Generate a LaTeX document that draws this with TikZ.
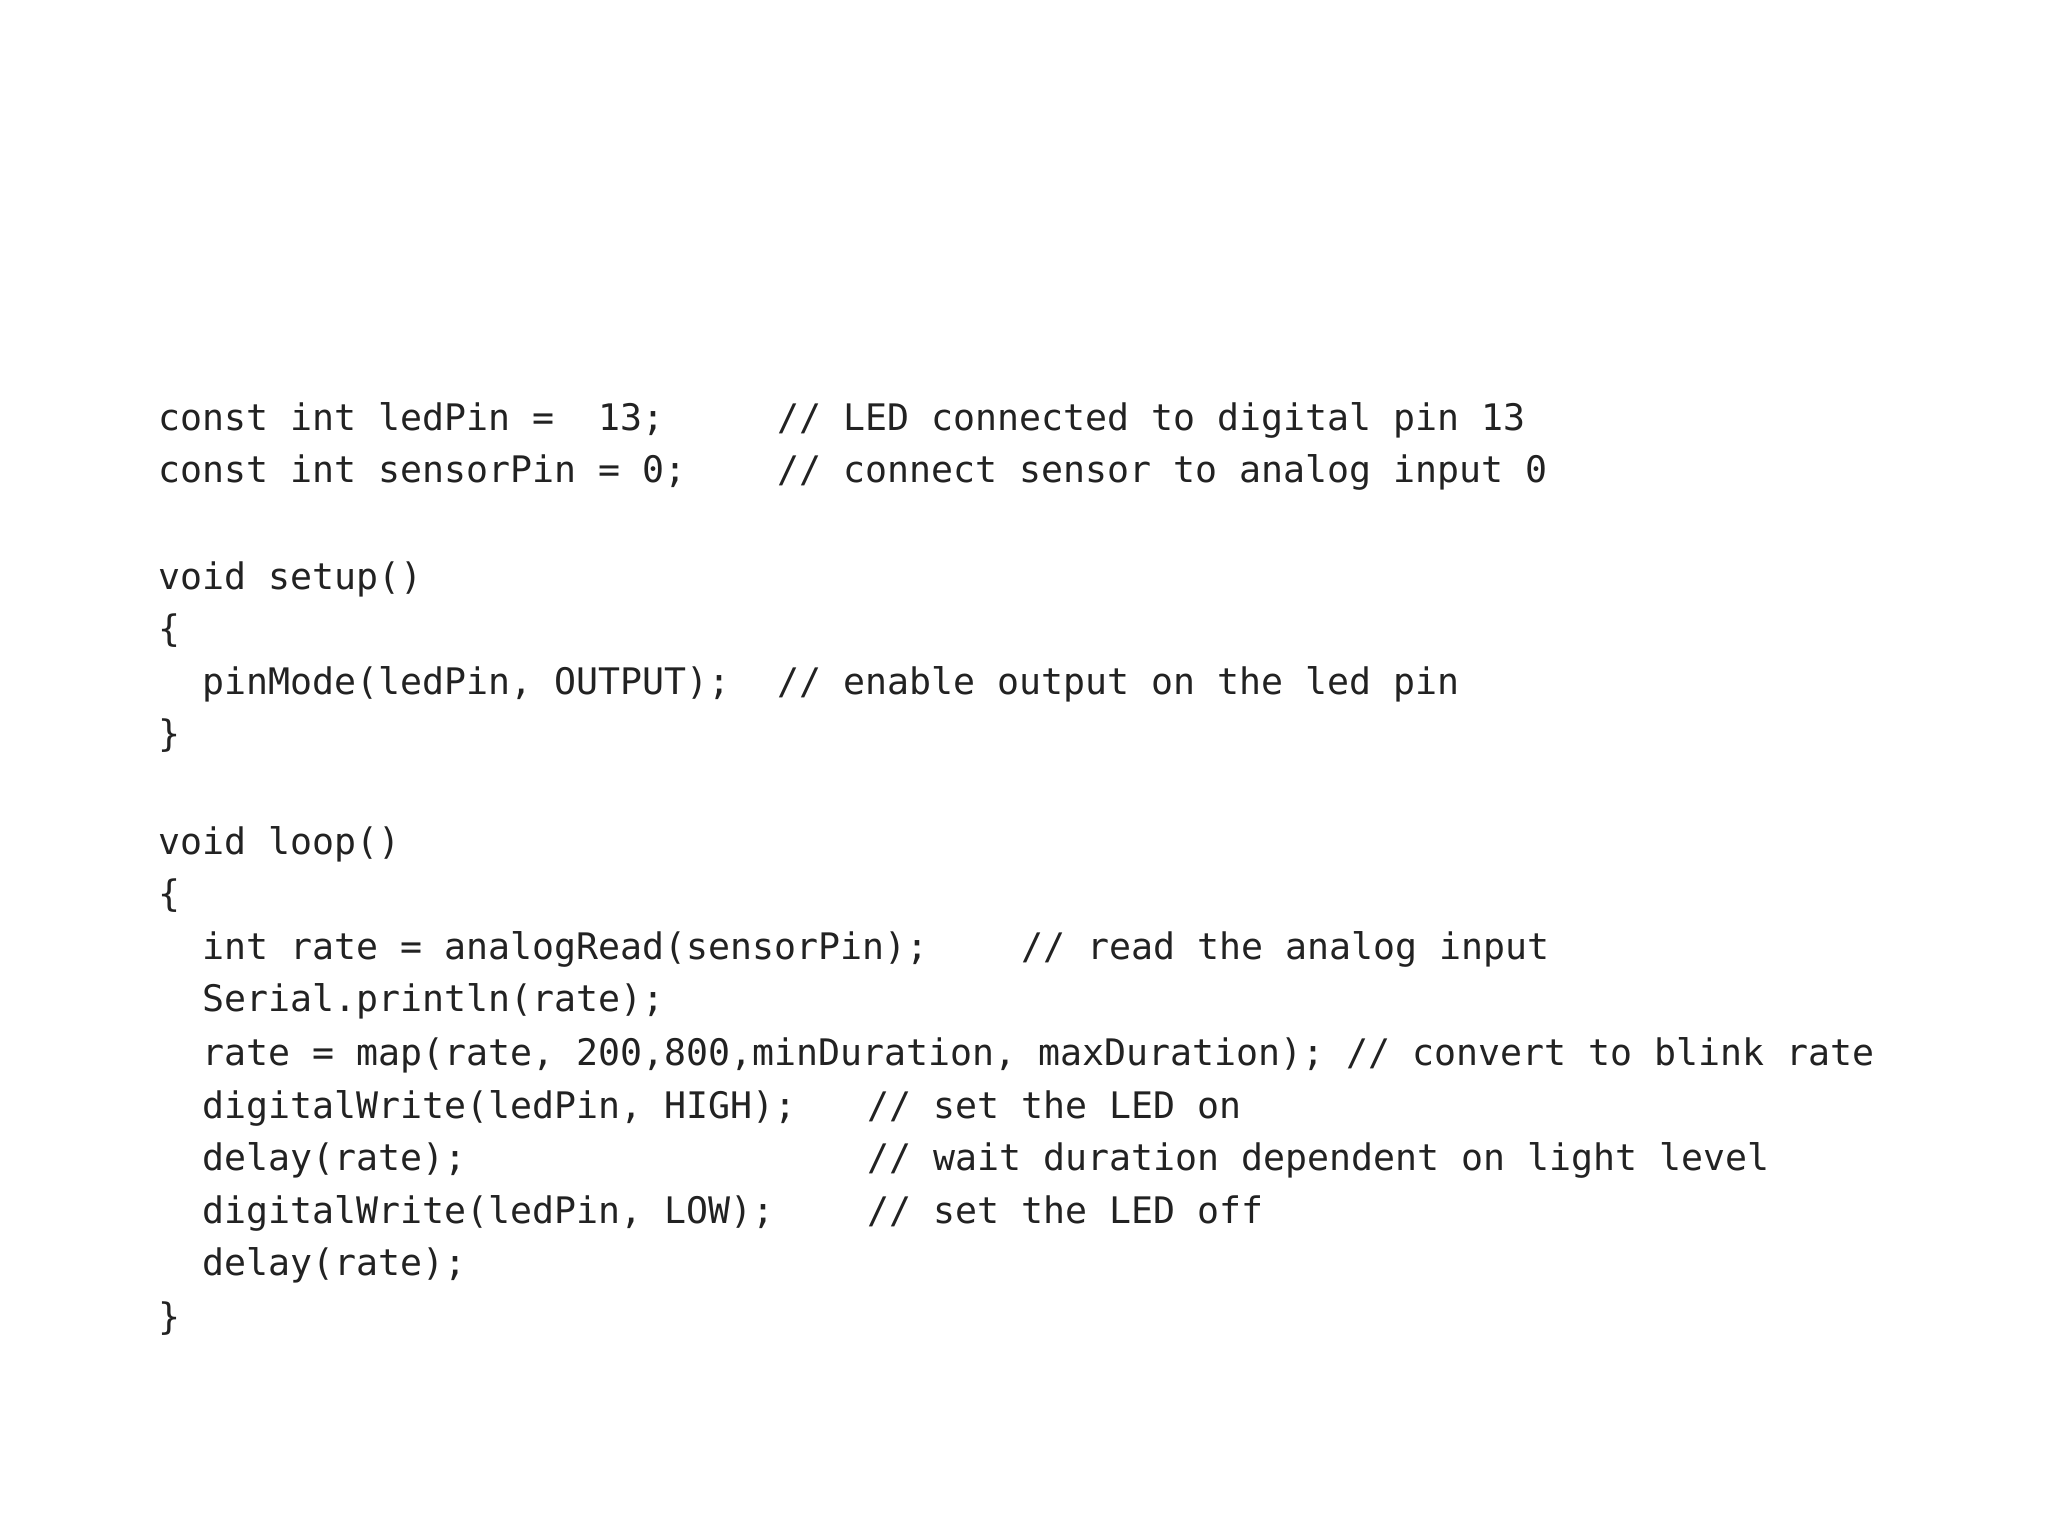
\documentclass[tikz,border=0pt]{standalone}
\usepackage{fontspec}
\setmonofont{DejaVu Sans Mono}
\usetikzlibrary{positioning}
\definecolor{codegray}{HTML}{222222}
\tikzset{code/.style={anchor=base west,inner sep=0pt,text=codegray,
    font=\ttfamily\fontsize{10.4}{12}\selectfont}}
\begin{document}
\begin{tikzpicture}
\useasboundingbox[fill=white] (0,0) rectangle (20.48,15.36);
% declarations
\node[code] (l1) at (1.58,11.05) {const int ledPin =\ \ 13;};
\node[code] (c1) at (7.77,11.05) {// LED connected to digital pin 13};
\node[code] (l2) at (1.58,10.53) {const int sensorPin = 0;};
\node[code] (c2) at (7.77,10.53) {// connect sensor to analog input 0};
% setup
\node[code] (s1) at (1.58,9.46) {void setup()};
\node[code] (s2) at (1.58,8.94) {\{};
\node[code] (s3) at (2.02,8.41) {pinMode(ledPin, OUTPUT);};
\node[code] (c3) at (7.77,8.41) {// enable output on the led pin};
\node[code] (s4) at (1.58,7.89) {\}};
% loop
\node[code] (p1) at (1.58,6.81) {void loop()};
\node[code] (p2) at (1.58,6.29) {\{};
\node[code] (p3) at (2.02,5.76) {int rate = analogRead(sensorPin);};
\node[code] (c4) at (10.21,5.76) {// read the analog input};
\node[code] (p4) at (2.02,5.24) {Serial.println(rate);};
\node[code] (p5) at (2.02,4.70) {rate = map(rate, 200,800,minDuration, maxDuration); // convert to blink rate};
\node[code] (p6) at (2.02,4.17) {digitalWrite(ledPin, HIGH);};
\node[code] (c6) at (8.67,4.17) {// set the LED on};
\node[code] (p7) at (2.02,3.65) {delay(rate);};
\node[code] (c7) at (8.67,3.65) {// wait duration dependent on light level};
\node[code] (p8) at (2.02,3.12) {digitalWrite(ledPin, LOW);};
\node[code] (c8) at (8.67,3.12) {// set the LED off};
\node[code] (p9) at (2.02,2.60) {delay(rate);};
\node[code] (p10) at (1.58,2.06) {\}};
\end{tikzpicture}
\end{document}
